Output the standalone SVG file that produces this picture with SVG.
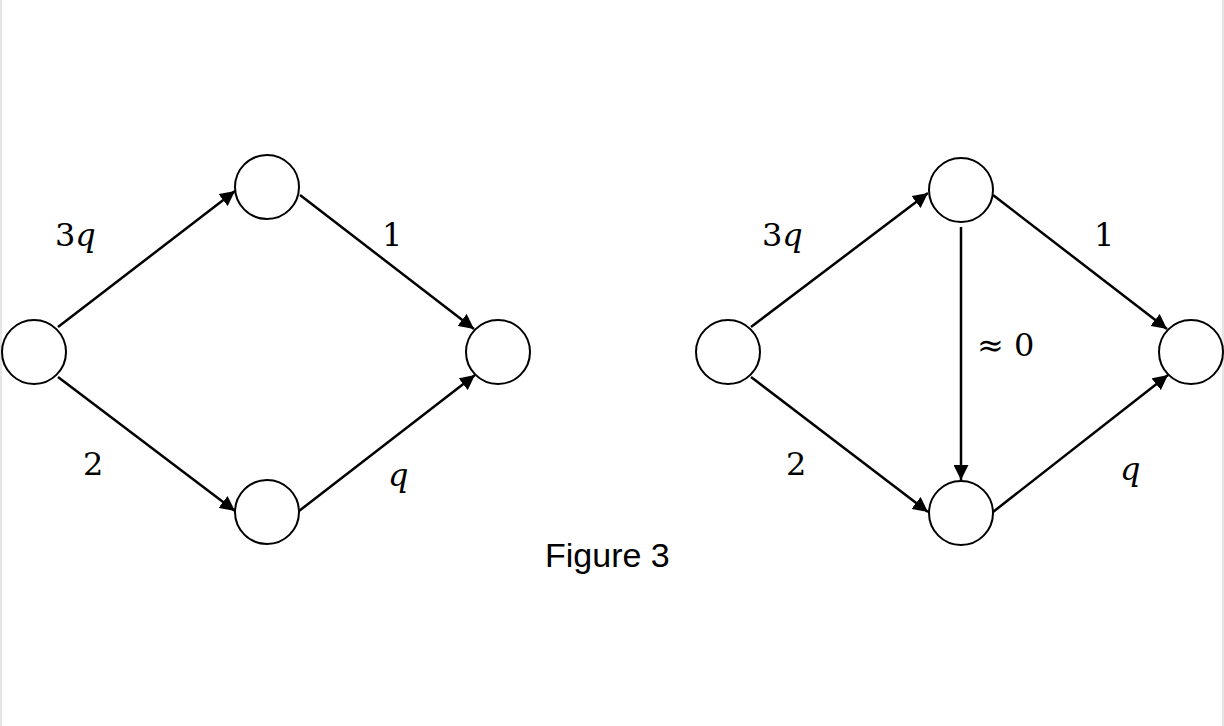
<svg xmlns="http://www.w3.org/2000/svg" width="1224" height="726" viewBox="0 0 1224 726">
<style>
.n{fill:#fff;stroke:#000;stroke-width:2}
.e{stroke:#000;stroke-width:2.5;fill:none;marker-end:url(#a)}
.t{font-family:"DejaVu Serif","Liberation Serif",serif;font-size:32px;fill:#000}
.i{font-style:italic}
</style>
<defs><marker id="a" viewBox="0 0 10 10" refX="10" refY="5" markerWidth="6" markerHeight="6" orient="auto"><path d="M0,0L10,5L0,10z" fill="#000"/></marker></defs>
<rect width="1224" height="726" fill="#fff"/>
<rect x="0" y="0" width="2" height="726" fill="#e6e6e6"/>
<rect x="1222" y="0" width="2" height="726" fill="#e6e6e6"/>
<g id="connectors">
<line class="e" x1="58" y1="327" x2="235" y2="191"/>
<line class="e" x1="58" y1="377" x2="235" y2="511"/>
<line class="e" x1="300" y1="195" x2="474" y2="329"/>
<line class="e" x1="299" y1="511" x2="475" y2="375"/>
<line class="e" x1="751" y1="327" x2="928" y2="193"/>
<line class="e" x1="751" y1="377" x2="928" y2="512"/>
<line class="e" x1="993" y1="195" x2="1167" y2="329"/>
<line class="e" x1="993" y1="512" x2="1168" y2="375"/>
<line class="e" x1="961" y1="227" x2="961" y2="480"/>
</g>
<g id="n1"><circle class="n" cx="34" cy="352" r="32"/></g>
<g id="n2"><circle class="n" cx="267" cy="187" r="32"/></g>
<g id="n3"><circle class="n" cx="267" cy="512" r="32"/></g>
<g id="n4"><circle class="n" cx="498" cy="352" r="32"/></g>
<g id="n5"><circle class="n" cx="728" cy="352" r="32"/></g>
<g id="n6"><circle class="n" cx="961" cy="190" r="32"/></g>
<g id="n7"><circle class="n" cx="961" cy="513" r="32"/></g>
<g id="n8"><circle class="n" cx="1191" cy="352" r="32"/></g>
<g id="labels">
<text class="t" x="55" y="246">3<tspan class="i">q</tspan></text>
<text class="t" x="382" y="246">1</text>
<text class="t" x="83" y="475">2</text>
<text class="t i" x="388" y="486">q</text>
<text class="t" x="762" y="246">3<tspan class="i">q</tspan></text>
<text class="t" x="1094" y="246">1</text>
<text class="t" x="786" y="475">2</text>
<text class="t i" x="1120" y="480">q</text>
<text class="t" x="977" y="356">≈ 0</text>
<text x="545" y="567" font-family="Liberation Sans,Arial,sans-serif" font-size="34">Figure 3</text>
</g>
</svg>
